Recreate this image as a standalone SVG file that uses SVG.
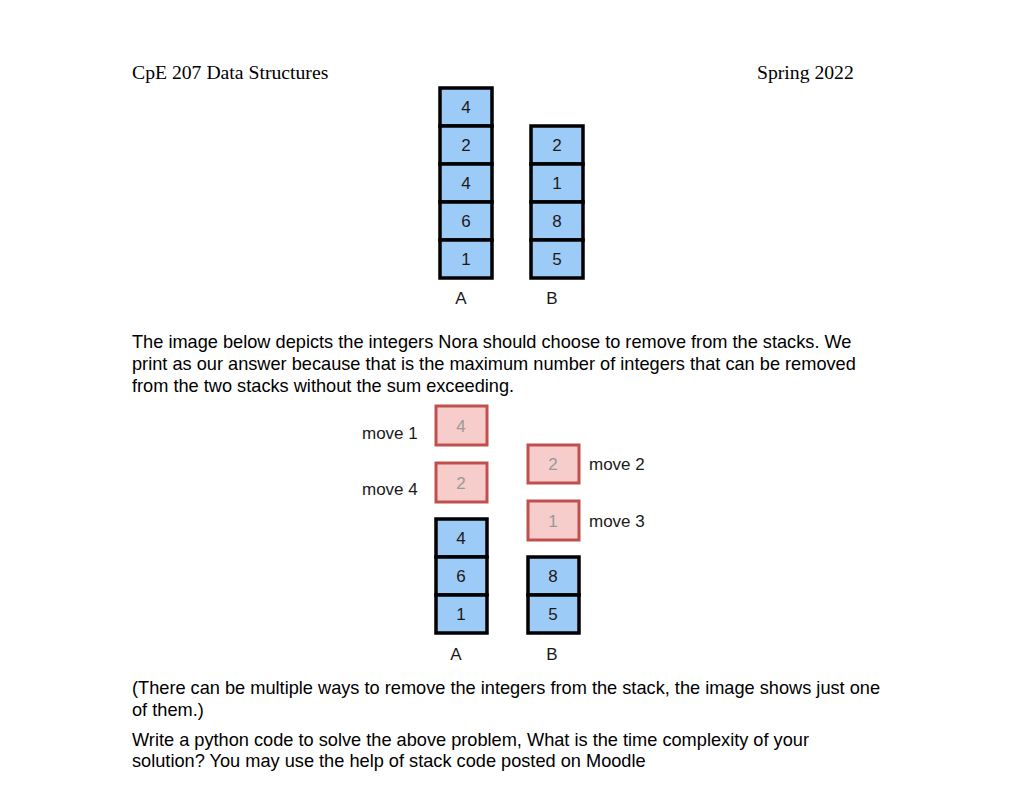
<svg xmlns="http://www.w3.org/2000/svg" width="1024" height="804" viewBox="0 0 1024 804">
<style>
.serif{font-family:"Liberation Serif",serif;font-size:19.7px;fill:#000}
.t{font-family:"Liberation Sans",Arial,sans-serif;font-size:18.2px;fill:#000}
.c{fill:#9dcbf7;stroke:#000;stroke-width:3.5}
.p{fill:#f7cdcb;stroke:#c0504d;stroke-width:3}
.n{font-family:"Liberation Sans",Arial,sans-serif;font-size:17px;fill:#1a1a1a;text-anchor:middle}
.pn{font-family:"Liberation Sans",Arial,sans-serif;font-size:17px;fill:#999;text-anchor:middle}
.l{font-family:"Liberation Sans",Arial,sans-serif;font-size:17px;fill:#1a1a1a}
</style>
<rect width="1024" height="804" fill="#fff"/>
<text class="serif" x="132" y="79">CpE 207 Data Structures</text>
<text class="serif" x="757" y="79">Spring 2022</text>
<g id="top-A">
<rect class="c" x="440" y="88" width="52" height="38"/><text class="n" x="466" y="113">4</text>
<rect class="c" x="440" y="126" width="52" height="38"/><text class="n" x="466" y="151">2</text>
<rect class="c" x="440" y="164" width="52" height="38"/><text class="n" x="466" y="189">4</text>
<rect class="c" x="440" y="202" width="52" height="38"/><text class="n" x="466" y="227">6</text>
<rect class="c" x="440" y="240" width="52" height="38"/><text class="n" x="466" y="265">1</text>
<text class="n" x="461" y="304">A</text>
</g>
<g id="top-B">
<rect class="c" x="531" y="126" width="52" height="38"/><text class="n" x="557" y="151">2</text>
<rect class="c" x="531" y="164" width="52" height="38"/><text class="n" x="557" y="189">1</text>
<rect class="c" x="531" y="202" width="52" height="38"/><text class="n" x="557" y="227">8</text>
<rect class="c" x="531" y="240" width="52" height="38"/><text class="n" x="557" y="265">5</text>
<text class="n" x="552" y="304">B</text>
</g>
<text class="t" x="132" y="348">The image below depicts the integers Nora should choose to remove from the stacks. We</text>
<text class="t" x="132" y="370">print as our answer because that is the maximum number of integers that can be removed</text>
<text class="t" x="132" y="392">from the two stacks without the sum exceeding.</text>
<g id="removed">
<rect class="p" x="436" y="406" width="51" height="39"/><text class="pn" x="461" y="432">4</text>
<text class="l" x="362" y="439">move 1</text>
<rect class="p" x="436" y="463" width="51" height="39"/><text class="pn" x="461" y="489">2</text>
<text class="l" x="362" y="495">move 4</text>
<rect class="p" x="528" y="445" width="51" height="38"/><text class="pn" x="553" y="470">2</text>
<text class="l" x="589" y="470">move 2</text>
<rect class="p" x="528" y="501" width="51" height="39"/><text class="pn" x="553" y="527">1</text>
<text class="l" x="589" y="527">move 3</text>
</g>
<g id="bottom-A">
<rect class="c" x="436" y="519" width="51" height="38"/><text class="n" x="461" y="544">4</text>
<rect class="c" x="436" y="557" width="51" height="38"/><text class="n" x="461" y="582">6</text>
<rect class="c" x="436" y="595" width="51" height="38"/><text class="n" x="461" y="620">1</text>
<text class="n" x="456" y="660">A</text>
</g>
<g id="bottom-B">
<rect class="c" x="528" y="557" width="51" height="38"/><text class="n" x="553" y="582">8</text>
<rect class="c" x="528" y="595" width="51" height="38"/><text class="n" x="553" y="620">5</text>
<text class="n" x="552" y="660">B</text>
</g>
<g id="connectors"/>
<text class="t" x="132" y="694">(There can be multiple ways to remove the integers from the stack, the image shows just one</text>
<text class="t" x="132" y="716">of them.)</text>
<text class="t" x="132" y="746">Write a python code to solve the above problem, What is the time complexity of your</text>
<text class="t" x="132" y="767">solution? You may use the help of stack code posted on Moodle</text>
</svg>
